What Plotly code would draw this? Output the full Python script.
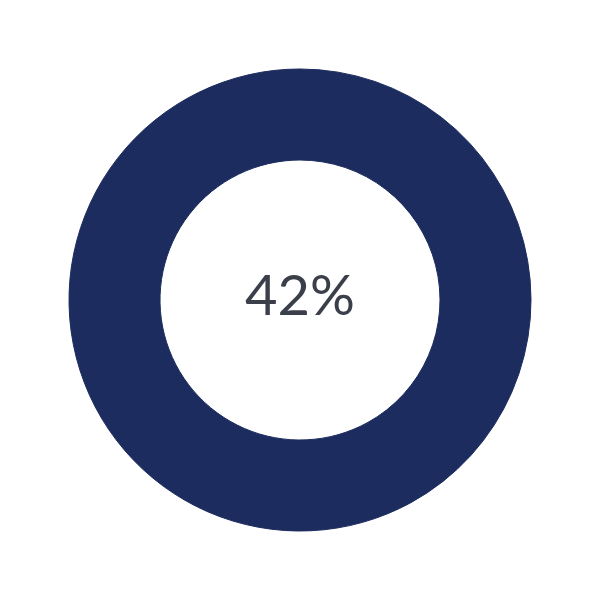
import plotly.graph_objects as go

labels = ['Share', 'Rest']
values = [42, 58]
share_label = '42%'
ring_color = '#1c2c5e'

fig = go.Figure(go.Pie(labels=labels, values=values,
                       hole=0.606,
                       sort=False,
                       textinfo='none',
                       hoverinfo='skip',
                       marker=dict(colors=[ring_color, ring_color],
                                   line=dict(color=ring_color, width=1))))

# centre label, nudged up so the caps sit in the middle of the hole
fig.add_annotation(text=share_label, x=0.5, y=0.5, xref='paper', yref='paper',
                   showarrow=False, yshift=7,
                   font=dict(family='Lato', size=56, color='#3b3f4a'))

# the page body adds 8px, so margins are offset to keep the ring centred
fig.update_layout(width=600, height=600,
                  showlegend=False,
                  margin=dict(l=61, r=77, t=61, b=77),
                  paper_bgcolor='white', plot_bgcolor='white')

fig.write_html('out.html')
